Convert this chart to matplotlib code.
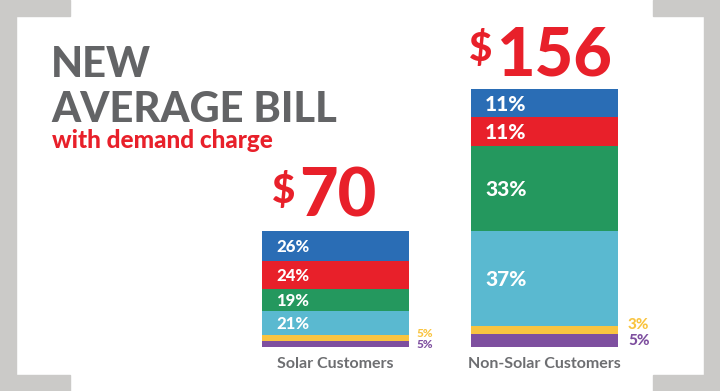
import matplotlib
matplotlib.use("Agg")
import matplotlib.pyplot as plt
from matplotlib.patches import Rectangle

# data
customers = ["Solar Customers", "Non-Solar Customers"]
totals = [70, 156]
# shares from bottom to top: purple, yellow, cyan, green, red, blue
shares_solar = [5, 5, 21, 19, 24, 26]
shares_nonsolar = [5, 3, 37, 33, 11, 11]
seg_colors = ["#7e4f9f", "#f9c440", "#5ab9d0", "#24985e", "#e8202a", "#2a6db5"]

RED = "#e8202a"
GRAY = "#636466"
FRAME = "#cbcac8"
FONT = ["Lato", "DejaVu Sans"]

W, H = 720, 391
fig = plt.figure(figsize=(W / 100, H / 100), dpi=100)
fig.patch.set_facecolor("white")


def fx(px):
    return px / W


def fy(py):
    return 1 - py / H


# gray corner frame
for x0, y0, w, h in [(0, 0, 16, 391), (0, 0, 70, 16), (0, 375, 70, 16),
                     (704, 0, 16, 391), (653, 0, 67, 16), (653, 375, 67, 16)]:
    fig.patches.append(Rectangle((fx(x0), fy(y0 + h)), w / W, h / H,
                                 transform=fig.transFigure, color=FRAME, zorder=0))

# axes over whole figure; bar centres at 335.5px and 544.5px, $0 at y=347px
ax = fig.add_axes([0, 0, 1, 1])
ax.set_facecolor("none")
step = 209.0
ppd = 258.0 / 156  # pixels per dollar
ax.set_xlim(-335.5 / step, (W - 335.5) / step)
ax.set_ylim(-44 / ppd, (H - 44) / ppd)
ax.axis("off")

bw = 147 / step
pt = 0.72  # points per pixel
all_shares = [shares_solar, shares_nonsolar]
label_sizes = [12, 15]
num_off = [(37, 15), (25, 13)]      # px offset of the digits from bar top-left
dollar_off = [(10, 59), (-2, 59)]   # px offset of "$" top-left
small_sizes = [8.5, 11]
small_off = [[(8, 0), (8, 4.5)], [(10, 0), (10, 5)]]

for i, (tot, shares) in enumerate(zip(totals, all_shares)):
    bottom = 0.0
    for k, (s, c) in enumerate(zip(shares, seg_colors)):
        h = tot * s / 100
        ax.bar(i, h, width=bw, bottom=bottom, color=c, linewidth=0)
        if k >= 2:
            ax.text(i - bw / 2 + 14 / step, bottom + h / 2 - 1.0 / ppd, f"{s}%",
                    color="white", fontsize=label_sizes[i], fontweight="black",
                    family=FONT, ha="left", va="center")
        else:
            dx, dy = small_off[i][k]
            ax.annotate(f"{s}%", (i + bw / 2, bottom + h / 2),
                        xytext=(dx * pt, dy * pt), textcoords="offset points",
                        ha="left", va="center", color=c,
                        fontsize=small_sizes[i], fontweight="black", family=FONT)
        bottom += h

    # total above bar
    dx, dy = num_off[i]
    ax.annotate(f"{tot}", (i - bw / 2, tot), xytext=(dx * pt, dy * pt),
                textcoords="offset points", ha="left", va="baseline",
                color=RED, fontsize=48, fontweight="black", family=FONT)
    dx, dy = dollar_off[i]
    ax.annotate("$", (i - bw / 2, tot), xytext=(dx * pt, dy * pt),
                textcoords="offset points", ha="left", va="top",
                color=RED, fontsize=29, fontweight="black", family=FONT)

    ax.text(i, -10 / ppd, customers[i], ha="center", va="top", color="#6d6e71",
            fontsize=11.5, fontweight="bold", family=FONT)

# title
fig.text(fx(51), fy(77), "NEW", color=GRAY, fontsize=30, fontweight="black",
         family=FONT, ha="left", va="baseline")
fig.text(fx(51), fy(122), "AVERAGE BILL", color=GRAY, fontsize=30, fontweight="black",
         family=FONT, ha="left", va="baseline")
fig.text(fx(52), fy(148), "with demand charge", color=RED, fontsize=17.5, fontweight="black",
         family=FONT, ha="left", va="baseline")

fig.savefig("out.png", dpi=100, facecolor="white")
